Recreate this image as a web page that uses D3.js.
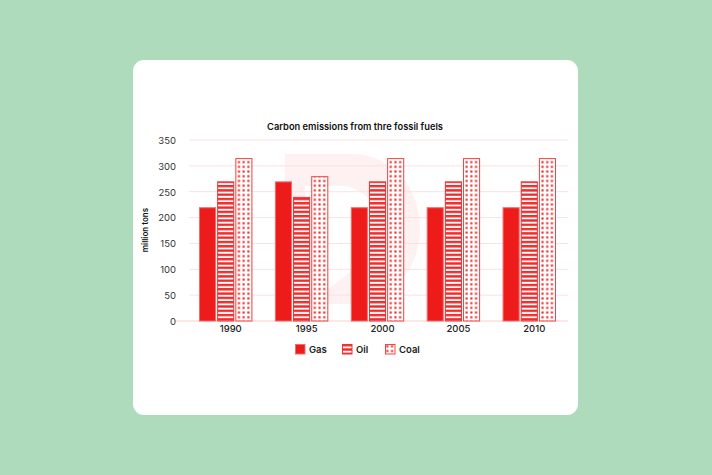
<!DOCTYPE html>
<html>
<head>
<meta charset="utf-8">
<script src="https://cdn.jsdelivr.net/npm/d3@7"></script>
<style>
  html, body { margin: 0; padding: 0; background: #afdbbd; }
  svg { display: block; }
</style>
</head>
<body>
<svg id="chart" width="712" height="475"></svg>
<script>
const years = ["1990", "1995", "2000", "2005", "2010"];
const seriesNames = ["Gas", "Oil", "Coal"];
const gasValues = [220, 270, 220, 220, 220];
const oilValues = [270, 240, 270, 270, 270];
const coalValues = [315, 280, 315, 315, 315];
const yTicks = [0, 50, 100, 150, 200, 250, 300, 350];
const titleText = "Carbon emissions from thre fossil fuels";
const yAxisTitle = "million tons";

const data = years.map((y, i) => ({ year: y, Gas: gasValues[i], Oil: oilValues[i], Coal: coalValues[i] }));

const svg = d3.select("#chart");
const font = "Inter, 'DejaVu Sans', sans-serif";

// card
svg.append("rect").attr("x", 133).attr("y", 60).attr("width", 445).attr("height", 355)
  .attr("rx", 11).attr("fill", "#ffffff");

// patterns
const defs = svg.append("defs");
const red = "#ee1b1b";
const pOil = defs.append("pattern").attr("id", "oilPat").attr("patternUnits", "userSpaceOnUse")
  .attr("width", 6).attr("height", 4.3);
pOil.append("rect").attr("width", 6).attr("height", 4.3).attr("fill", "#ffffff");
pOil.append("rect").attr("y", 0).attr("width", 6).attr("height", 2.4).attr("fill", "#f22a2a");

const pCoal = defs.append("pattern").attr("id", "coalPat").attr("patternUnits", "userSpaceOnUse")
  .attr("width", 4.7).attr("height", 4.7);
pCoal.append("rect").attr("width", 4.7).attr("height", 4.7).attr("fill", "#ffffff");
pCoal.append("rect").attr("x", 1.3).attr("y", 1.3).attr("width", 2.1).attr("height", 2.1).attr("fill", "#f02424");

const fills = { Gas: red, Oil: "url(#oilPat)", Coal: "url(#coalPat)" };
const strokes = { Gas: "#f56a6a", Oil: "#f03030", Coal: "#f04444" };

// scales
const y = d3.scaleLinear().domain([0, 350]).range([321, 140]);
const x0 = d3.scaleBand().domain(years).range([199, 556]).paddingInner(0.296).paddingOuter(0);
const x1 = d3.scaleBand().domain(seriesNames).range([0, x0.bandwidth()]).paddingInner(0.06);

// watermark
const wm = svg.append("g").attr("opacity", 0.5);
wm.append("path")
  .attr("d", "M285,154 L350,154 C395,154 420,190 420,228 C420,268 392,304 350,304 L300,304 C330,290 360,270 372,240 C382,212 370,190 345,186 L305,186 L305,260 C300,270 292,278 285,284 Z")
  .attr("fill", "#fbe3e3");

// gridlines
svg.append("g").selectAll("line").data(yTicks.filter(t => t > 0)).join("line")
  .attr("x1", 189).attr("x2", 568)
  .attr("y1", d => y(d)).attr("y2", d => y(d))
  .attr("stroke", "#fde0e0").attr("stroke-width", 1);
svg.append("line").attr("x1", 174).attr("x2", 568).attr("y1", y(0)).attr("y2", y(0))
  .attr("stroke", "#fbd0d0").attr("stroke-width", 1);

// y axis
const yAxis = d3.axisLeft(y).tickValues(yTicks).tickSize(0).tickPadding(0);
const gy = svg.append("g").attr("transform", "translate(176,0)").call(yAxis);
gy.select(".domain").remove();
gy.selectAll("text").attr("font-family", font).attr("font-size", 9.5).attr("fill", "#333")
  .attr("dy", "0.35em");

// x axis
const xAxis = d3.axisBottom(x0).tickSize(0).tickPadding(0);
const gx = svg.append("g").attr("transform", "translate(5,325)").call(xAxis);
gx.select(".domain").remove();
gx.selectAll("text").attr("font-family", font).attr("font-size", 9.5).attr("font-weight", 500)
  .attr("fill", "#222").attr("dy", "0.71em");

// bars
const groups = svg.append("g").selectAll("g").data(data).join("g")
  .attr("transform", d => `translate(${x0(d.year)},0)`);
groups.selectAll("rect").data(d => seriesNames.map(s => ({ key: s, value: d[s] }))).join("rect")
  .attr("x", d => x1(d.key) + 0.5)
  .attr("y", d => y(d.value) + 0.5)
  .attr("width", x1.bandwidth() - 1)
  .attr("height", d => y(0) - y(d.value) - 0.5)
  .attr("fill", d => fills[d.key])
  .attr("stroke", d => strokes[d.key])
  .attr("stroke-width", 1);

// title
svg.append("text").attr("x", 355).attr("y", 130).attr("text-anchor", "middle")
  .attr("font-family", font).attr("font-size", 9.3).attr("font-weight", 600).attr("fill", "#111")
  .text(titleText);

// y axis title
svg.append("text").attr("transform", "translate(148,230) rotate(-90)").attr("text-anchor", "middle")
  .attr("font-family", font).attr("font-size", 8).attr("font-weight", 600).attr("fill", "#111")
  .text(yAxisTitle);

// legend
const legendX = { Gas: 295, Oil: 342, Coal: 385 };
const lg = svg.append("g").selectAll("g").data(seriesNames).join("g")
  .attr("transform", d => `translate(${legendX[d]},344)`);
lg.append("rect").attr("x", 0.5).attr("y", 0.5).attr("width", 9.5).attr("height", 9.5)
  .attr("fill", d => fills[d]).attr("stroke", d => strokes[d]).attr("stroke-width", 1);
lg.append("text").attr("x", 14).attr("y", 5.5).attr("dy", "0.35em")
  .attr("font-family", font).attr("font-size", 9.5).attr("font-weight", 600).attr("fill", "#222")
  .text(d => d);
</script>
</body>
</html>
